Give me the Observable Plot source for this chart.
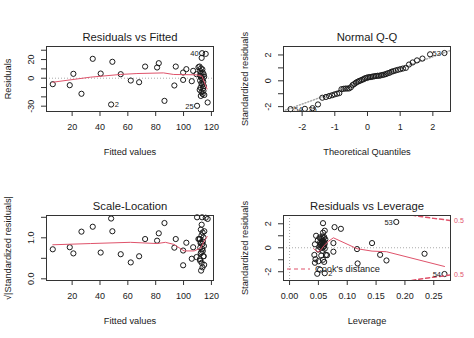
<!DOCTYPE html>
<html><head><meta charset="utf-8">
<script src="https://cdn.jsdelivr.net/npm/d3@7"></script>
<script src="https://cdn.jsdelivr.net/npm/@observablehq/plot@0.6"></script>
<style>
html,body{margin:0;padding:0;background:#fff;}
#grid{display:grid;grid-template-columns:237px 237px;grid-template-rows:169px 169px;width:474px;height:338px;}
#grid svg{display:block;}
</style></head><body><div id="grid"></div>
<script>
// ---------- Panel 1: Residuals vs Fitted ----------
const fittedValues = [6.1,18.3,20.9,26.7,34.8,40.5,48.9,48.0,54.9,62.1,68.1,72.4,81.0,82.2,86.3,93.4,94.4,99.7,99.7,102.0,105.9,106.9,109.3,109.7,110.7,113.3,115.9,113.0,117.3,
  111.5,112.5,113.5,112.0,113.8,112.3,114.5,111.8,113.0,114.8,112.6,113.6,111.9,114.2,112.8,113.4,114.6,112.2,113.9,111.6,114.3,112.9,113.7,114.9,112.4];
const residuals = [-6.4,-7.5,4.7,-16.7,20.8,5.0,17.6,-28.2,4.3,-2.5,-4.3,12.5,11.5,16.1,-24.3,-7.8,12.5,6.1,-1.8,9.7,-3.2,7.9,4.3,-29.6,11.8,26.8,26.1,21.8,-26.0,
  12.5,10.5,9.5,7.5,6.0,5.0,4.0,3.0,2.0,1.5,0.5,-1.0,-2.5,-4.0,-5.5,-7.0,-8.5,-10.0,-11.0,-12.5,-13.5,-15.0,-17.0,-18.0,-19.0];
const rvfLabelIndex = [7, 23, 25];
const rvfLabelText = ["2", "25", "40"];
const rvfLabelSide = ["right", "left", "left"];
const rvfSmoothX = [6.1,33.1,54.5,66.5,85.6,92.9,109.7,113.3,115.7,116.9];
const rvfSmoothY = [-4.3,1.1,4.0,5.0,5.7,4.0,3.6,2.1,-7.5,-11.5];
const rvfXTicks = [20,40,60,80,100,120];
const rvfYTicks = [-30,-20,-10,0,10,20,30];
const rvfYLabeled = [-30,0,20];

// ---------- Panel 2: Normal Q-Q ----------
const qqTheoretical = [-2.355,-1.915,-1.682,-1.515,-1.383,-1.271,-1.173,-1.085,-1.005,-0.931,-0.861,-0.796,-0.734,-0.674,-0.617,-0.562,-0.508,-0.456,-0.405,-0.355,-0.306,-0.258,-0.210,-0.163,-0.116,-0.070,-0.023,
  0.023,0.070,0.116,0.163,0.210,0.258,0.306,0.355,0.405,0.456,0.508,0.562,0.617,0.674,0.734,0.796,0.861,0.931,1.005,1.085,1.173,1.271,1.383,1.515,1.682,1.915,2.355];
const qqStdResid = [-2.19,-2.17,-2.12,-1.83,-1.31,-1.25,-1.18,-1.12,-1.05,-1.00,-0.95,-0.65,-0.62,-0.60,-0.60,-0.59,-0.50,-0.33,-0.25,-0.15,-0.08,-0.02,0.03,0.08,0.14,0.20,0.24,
  0.27,0.29,0.30,0.33,0.35,0.37,0.39,0.39,0.42,0.45,0.48,0.52,0.58,0.62,0.70,0.75,0.80,0.85,0.90,0.95,1.00,1.26,1.42,1.58,1.72,2.05,2.15];
const qqLabelIndex = [0, 1, 53];
const qqLabelText = ["54", "25", "53"];
const qqLabelSide = ["right", "right", "left"];
const qqLineX = [-2.6, 2.6];
const qqLineY = [-2.35, 2.41];
const qqTicks = [-2,-1,0,1,2];
const qqYLabeled = [-2,0,2];

// ---------- Panel 3: Scale-Location ----------
const sqrtAbsStdResid = [0.72,0.77,0.62,1.15,1.27,0.64,1.16,1.47,0.60,0.40,0.55,0.97,0.93,1.11,1.36,0.76,0.97,0.69,0.33,0.88,0.49,0.77,0.53,1.50,0.97,1.50,1.49,1.32,1.46,
  0.97,0.89,0.85,0.76,0.68,0.62,0.55,0.48,0.39,0.34,0.20,0.28,0.44,0.55,0.65,0.73,0.80,0.87,0.91,0.97,1.01,1.06,1.13,1.16,1.20];
const slSmoothX = [6.1,33.1,61.8,81.0,87.0,93.0,100.4,107.6,112.3,114.7,117.0];
const slSmoothY = [0.83,0.86,0.89,0.86,0.89,0.84,0.68,0.68,0.75,0.91,1.03];
const slYTicks = [0,0.5,1,1.5];
const slYLabeled = [0,1];

// ---------- Panel 4: Residuals vs Leverage ----------
const leverage = [0.185,0.2686,0.234,0.168,0.157,0.143,0.118,0.117,0.089,0.078,0.076,0.076,0.058,0.048,0.061,0.053,
  0.061,0.058,0.046,0.057,0.060,0.052,0.059,0.055,0.062,0.049,0.058,0.056,0.060,0.053,0.057,0.059,0.055,0.061,0.044,0.058,0.054,0.057,0.060,0.052,0.058,0.055,0.061,0.050,0.057,0.043,0.063,0.065,0.055,0.045,0.058,0.050,0.060,0.044];
const levStdResid = [2.15,-2.19,-0.50,-1.06,-0.59,0.39,-1.31,-0.11,1.58,1.72,0.39,-0.33,2.05,-2.17,-2.12,-1.83,
  1.42,1.26,1.00,0.95,0.90,0.85,0.80,0.75,0.70,0.62,0.58,0.52,0.48,0.45,0.42,0.37,0.35,0.33,0.29,0.27,0.24,0.20,0.14,0.08,0.03,-0.02,-0.08,-0.15,-0.25,-0.60,-0.60,-0.62,-0.65,-0.95,-1.00,-1.12,-1.18,-1.25];
const levLabelIndex = [0, 1, 14];
const levLabelText = ["53", "54", "2"];
const levLabelSide = ["left", "left", "right"];
const levSmoothX = [0.0418,0.0487,0.0545,0.060,0.0678,0.076,0.117,0.143,0.168,0.2686];
const levSmoothY = [-0.08,-0.36,-0.17,0.19,0.55,0.83,-0.08,-0.28,-0.33,-1.56];
const cookH = [0.20,0.21,0.22,0.23,0.24,0.25,0.26,0.27,0.28];
const cookUpper = [2.83,2.74,2.66,2.59,2.52,2.45,2.39,2.33,2.27];
const cookLower = [-2.83,-2.74,-2.66,-2.59,-2.52,-2.45,-2.39,-2.33,-2.27];
const cookLevelText = ["0.5", "0.5"];
const levXTicks = [0,0.05,0.10,0.15,0.20,0.25];
const levYTicks = [-2,-1,0,1,2];
const levYLabeled = [-2,0,2];
const zeroRef = [0];

// ---------- styling ----------
const red = "#DF536B";
const ink = "#1a1a1a";
const boxColor = "#333";
const refGray = "#AAAAAA";
const font = "'Liberation Sans', Arial, Helvetica, sans-serif";

const pts = (xs, ys) => xs.map((x, i) => ({x, y: ys[i]}));

function labelMarks(points, idx, texts, sides) {
  const L = idx.map((k, j) => ({x: points[k].x, y: points[k].y, t: texts[j], s: sides[j]}));
  return [
    Plot.text(L.filter(d => d.s === "right"), {x: "x", y: "y", text: "t", dx: 3.5, dy: 0.5, textAnchor: "start", fontSize: 7.5}),
    Plot.text(L.filter(d => d.s === "left"), {x: "x", y: "y", text: "t", dx: -3.5, dy: 0.5, textAnchor: "end", fontSize: 7.5})
  ];
}

function panel({xDomain, yDomain, xTicks, xFmt, yTicks, yFmt, title, xLabel, yLabel, marks}) {
  return Plot.plot({
    width: 237, height: 169,
    marginLeft: 46, marginRight: 24, marginTop: 46, marginBottom: 58,
    x: {domain: xDomain},
    y: {domain: yDomain},
    style: {fontFamily: font, fontSize: "9px", color: ink, background: "white", overflow: "visible"},
    marks: [
      ...marks,
      Plot.frame({stroke: boxColor}),
      Plot.axisX(xTicks, {tickSize: 5, tickPadding: 7, tickFormat: xFmt, stroke: boxColor, label: null}),
      Plot.axisY(yTicks, {tickSize: 5, tickPadding: 8, tickRotate: -90, textAnchor: "middle", lineAnchor: "bottom", tickFormat: yFmt, stroke: boxColor, label: null}),
      Plot.text([title], {text: d => d, frameAnchor: "top", dy: -8.7, fontSize: 11.25, lineAnchor: "middle"}),
      Plot.text([xLabel], {text: d => d, frameAnchor: "bottom", dy: 40.7, fontSize: 9.25, lineAnchor: "middle"}),
      Plot.text([yLabel], {text: d => d, frameAnchor: "left", dx: -38.7, rotate: -90, fontSize: 9.25, lineAnchor: "middle", textAnchor: "middle"})
    ]
  });
}

const dotStyle = {x: "x", y: "y", r: 2.6, stroke: ink, strokeWidth: 1, fill: "none"};

// Panel 1
const rvfPts = pts(fittedValues, residuals);
const p1 = panel({
  xDomain: [1.6, 121.5], yDomain: [-35.7, 34.0],
  xTicks: rvfXTicks, xFmt: d => String(d),
  yTicks: rvfYTicks, yFmt: d => rvfYLabeled.includes(d) ? String(d) : "",
  title: "Residuals vs Fitted", xLabel: "Fitted values", yLabel: "Residuals",
  marks: [
    Plot.ruleY(zeroRef, {stroke: refGray, strokeDasharray: "1,2"}),
    Plot.dot(rvfPts, dotStyle),
    Plot.line(pts(rvfSmoothX, rvfSmoothY), {x: "x", y: "y", stroke: red, strokeWidth: 1}),
    ...labelMarks(rvfPts, rvfLabelIndex, rvfLabelText, rvfLabelSide)
  ]
});

// Panel 2
const qqPts = pts(qqTheoretical, qqStdResid);
const p2 = panel({
  xDomain: [-2.57, 2.54], yDomain: [-2.376, 2.655],
  xTicks: qqTicks, xFmt: d => String(d),
  yTicks: qqTicks, yFmt: d => qqYLabeled.includes(d) ? String(d) : "",
  title: "Normal Q-Q", xLabel: "Theoretical Quantiles", yLabel: "Standardized residuals",
  marks: [
    Plot.line(pts(qqLineX, qqLineY), {x: "x", y: "y", stroke: refGray, strokeDasharray: "1,2", clip: true}),
    Plot.dot(qqPts, dotStyle),
    ...labelMarks(qqPts, qqLabelIndex, qqLabelText, qqLabelSide)
  ]
});

// Panel 3
const slPts = pts(fittedValues, sqrtAbsStdResid);
const p3 = panel({
  xDomain: [1.6, 121.5], yDomain: [-0.041, 1.544],
  xTicks: rvfXTicks, xFmt: d => String(d),
  yTicks: slYTicks, yFmt: d => slYLabeled.includes(d) ? d.toFixed(1) : "",
  title: "Scale-Location", xLabel: "Fitted values", yLabel: "√|Standardized residuals|",
  marks: [
    Plot.dot(slPts, dotStyle),
    Plot.line(pts(slSmoothX, slSmoothY), {x: "x", y: "y", stroke: red, strokeWidth: 1})
  ]
});

// Panel 4
const levPts = pts(leverage, levStdResid);
const cookLegend = (index, scales, values, dims) => {
  const ml = (dims && dims.marginLeft) || 46;
  const h = (dims && dims.height) || 169;
  const mb = (dims && dims.marginBottom) || 58;
  const y = h - mb - 11;
  const g = d3.create("svg:g");
  g.append("line").attr("x1", ml + 4).attr("x2", ml + 27).attr("y1", y).attr("y2", y)
    .attr("stroke", red).attr("stroke-width", 1).attr("stroke-dasharray", "4,3");
  g.append("text").attr("x", ml + 32).attr("y", y).attr("dy", "0.32em")
    .style("text-anchor", "start").style("font-size", "9.25px").style("font-family", font)
    .attr("fill", ink).text("Cook's distance");
  return g.node();
};
const cookEnd = cookH.length - 1;
const p4 = panel({
  xDomain: [-0.0105, 0.279], yDomain: [-2.73, 2.69],
  xTicks: levXTicks, xFmt: d => d.toFixed(2),
  yTicks: levYTicks, yFmt: d => levYLabeled.includes(d) ? String(d) : "",
  title: "Residuals vs Leverage", xLabel: "Leverage", yLabel: "Standardized residuals",
  marks: [
    Plot.ruleY(zeroRef, {stroke: refGray, strokeDasharray: "1,2"}),
    Plot.ruleX(zeroRef, {stroke: refGray, strokeDasharray: "1,2"}),
    Plot.dot(levPts, dotStyle),
    Plot.line(pts(levSmoothX, levSmoothY), {x: "x", y: "y", stroke: red, strokeWidth: 1}),
    Plot.line(pts(cookH, cookUpper), {x: "x", y: "y", stroke: red, strokeDasharray: "4,3", clip: true}),
    Plot.line(pts(cookH, cookLower), {x: "x", y: "y", stroke: red, strokeDasharray: "4,3", clip: true}),
    Plot.text([{x: cookH[cookEnd], y: cookUpper[cookEnd], t: cookLevelText[0]}, {x: cookH[cookEnd], y: cookLower[cookEnd], t: cookLevelText[1]}],
      {x: "x", y: "y", text: "t", dx: 3, textAnchor: "start", fill: red, fontSize: 7}),
    cookLegend,
    ...labelMarks(levPts, levLabelIndex, levLabelText, levLabelSide)
  ]
});

const grid = document.getElementById("grid");
[p1, p2, p3, p4].forEach(p => grid.appendChild(p));
</script></body></html>
